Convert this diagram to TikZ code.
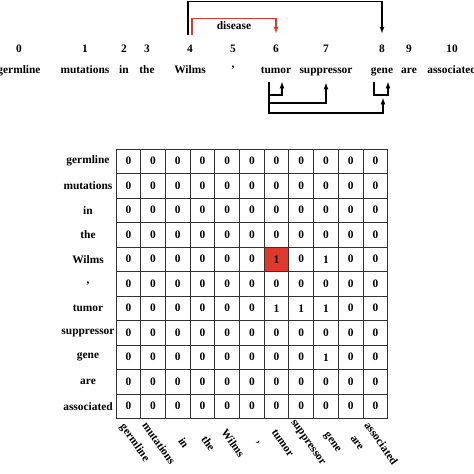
\documentclass[tikz,border=0pt]{standalone}
\usepackage{fontspec}
\setmainfont{Liberation Serif}
\usepackage{xcolor}
\definecolor{relred}{HTML}{E0392B}
\tikzstyle{word}=[inner sep=1pt, anchor=base, font=\bfseries\fontsize{11.4}{13}\selectfont]
\tikzstyle{cell}=[draw=black!80, line width=0.9pt, minimum width=24.7pt, minimum height=24.5pt, inner sep=0pt, font=\bfseries\fontsize{11.4}{13}\selectfont]
\tikzstyle{dep}=[-latex, line width=1.2pt]
\newcommand{\cell}{\node[cell]}

\begin{document}
\begin{tikzpicture}[x=1pt,y=-1pt]
\useasboundingbox (0,0) rectangle (474,474);
% sentence with token indices
\foreach \i/\x/\w in {0/19/germline,1/85/mutations,2/124/in,3/147/the,4/190/Wilms,5/233/{’},6/276/tumor,7/326/suppressor,8/382/gene,9/409/are,10/452/associated}{
	\node[word] (n\i) at (\x,52) {\i};
	\node[word] (w\i) at (\x,73) {\w};
	}
\draw[dep] ([xshift=-2pt,yshift=8pt]n4.north) -- ++(0,33.5pt) -| ([yshift=10pt]n8.north);
\draw[dep, relred] ([xshift=2pt,yshift=8pt]n4.north) -- ++(0,16.5pt) -| node[pos=0.25, below=1pt, word, anchor=north, black]{disease} ([yshift=10pt]n6.north);
\draw[dep] ([xshift=-7pt,yshift=-9pt]w6.base) -- ++(0,-13pt) -| ([xshift=6pt,yshift=-9pt]w6.base);
\draw[dep] ([xshift=-7pt,yshift=-9pt]w6.base) -- ++(0,-21pt) -| ([yshift=-10pt]w7.base);
\draw[dep] ([xshift=-7pt,yshift=-9pt]w6.base) -- ++(0,-31pt) -| ([xshift=1pt,yshift=-25pt]w8.base);
\draw[dep] ([xshift=-8pt,yshift=-9pt]w8.base) -- ++(0,-13pt) -| ([xshift=6pt,yshift=-9pt]w8.base);
% matrix
\foreach \r/\w/\row in {0/germline/{0,0,0,0,0,0,0,0,0,0,0},1/mutations/{0,0,0,0,0,0,0,0,0,0,0},2/in/{0,0,0,0,0,0,0,0,0,0,0},3/the/{0,0,0,0,0,0,0,0,0,0,0},4/Wilms/{0,0,0,0,0,0,1,0,1,0,0},5/{,}/{0,0,0,0,0,0,0,0,0,0,0},6/tumor/{0,0,0,0,0,0,1,1,1,0,0},7/suppressor/{0,0,0,0,0,0,0,0,0,0,0},8/gene/{0,0,0,0,0,0,0,0,1,0,0},9/are/{0,0,0,0,0,0,0,0,0,0,0},10/associated/{0,0,0,0,0,0,0,0,0,0,0}}{
	\node[word, anchor=center] (r\r) at (88,{149+24.5*(\r+0.5)}) {\w};
	\foreach \v [count=\c from 0] in \row {
		\cell (c\r-\c) at ({116+24.7*(\c+0.5)},{149+24.5*(\r+0.5)}) {\v};
		}
	}
\node[cell, fill=relred] at (c4-6.center) {1};
\foreach \c/\w in {0/germline,1/mutations,2/in,3/the,4/Wilms,5/{,},6/tumor,7/suppressor,8/gene,9/are,10/associated}{
	\node[word, anchor=center, rotate=-55] (k\c) at ({116+24.7*(\c+0.5)+6},443) {\w};
	}
\end{tikzpicture}
\end{document}
